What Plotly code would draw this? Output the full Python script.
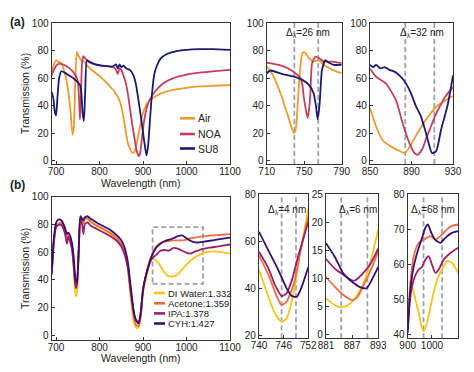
import plotly.graph_objects as go

# ---------------- DATA ----------------
# Panel (a) main: Air / NOA / SU8 transmission spectra
air_x = [690,695,700,705,712,720,727,733,738,741,744,748,752,758,765,772,780,790,800,812,
         824,835,847,853,858,862,866,870,875,880,885,890,895,900,905,910,920,935,950,970,
         1000,1030,1060,1100]
air_y = [64,70,73,72,71,64,53,37,19,25,55,79,76,73,72,69,66.5,64,61.5,58,
         54,50,43,35,26,18,12,9,6,6.5,12,20,28,35,39,42,45,48,50,51.5,
         53,54,54.5,55]
noa_x = [690,695,700,708,715,725,735,745,750,753,755,757,760,763,768,775,790,805,820,832,
         838,842,846,850,855,860,865,870,875,880,885,890,893,897,902,910,920,935,950,970,
         1000,1030,1060,1100]
noa_y = [62,66,69,70.5,70,68.5,66,62,58,45,30,45,72,76,74,72,70,69,68.5,68,
         66,63,67,66,62,57,49,38,27,17,8,3.5,5,15,28,40,47,53,57,60,
         62.5,64,65,66]
su8_x = [690,694,697,700,703,707,712,720,730,740,750,755,758,761,764,767,771,776,790,810,
         830,838,842,846,850,855,862,870,878,884,890,896,902,908,912,916,921,926,932,940,
         955,975,1000,1030,1060,1100]
su8_y = [50,45,36,33,45,60,65,64,62,60,57,55,50,35,29,50,73,72,70,69,
         68.5,70,67,70,68,69,67,66,62,55,43,30,16,4,12,30,50,63,69,74,
         77.5,79.5,80.5,81,81,80.5]

# Panel (a) inset 1 (710-790 nm)
air_i1_x = [710,715,719,723,726,730,733,736,739,741,743,745,748,750.5,755,760,765.5,771,780,790]
air_i1_y = [68.4,64,58.7,52,46.6,38,32,25,20,23,40,61,78,78.7,74.4,72,73,69.6,66,63.5]
noa_i1_x = [710,723,733,740.6,746,748,749.5,751.5,753.7,755.3,756.6,758.4,762,766,771,780,790]
noa_i1_y = [71.3,69.6,67,63.5,60,55,46.6,38,31,38,49,70.8,75.6,74.4,72,72,70.8]
su8_i1_x = [710,714,726,739,748,755,760,762.6,764.4,766.5,769,772.6,776,781.5,790]
su8_i1_y = [63.5,65.5,63,61,58.7,55,49,39.4,30,41.8,66,73,71.3,69.6,69.6]

# Panel (a) inset 2 (850-930 nm)
air_i2_x = [850,855.8,862,870,878,883.8,889.5,897.6,907,913.7,922,930]
air_i2_y = [38,25,15,10.4,7.2,5.6,11.6,22.5,33,39,43.5,47]
noa_i2_x = [850,855.8,865.4,875,881.5,888,893,896,900.8,904,908.8,913,917,923,930]
noa_i2_y = [67,61,56,44,27,12.8,5.5,4.3,9,16,25,33,39,47,53.5]
su8_i2_x = [850,853,856,860,864,868.6,874,878.3,882,886.3,890,894.4,899.2,904,909.8,913.7,918.5,924.9,930]
su8_i2_y = [69.6,68,69.5,67,68,66,64.5,62,59,54,48,39.4,32,20,5.6,6.8,22.5,40.6,62]

# Panel (b) main: liquids
wl_b = [690,695,700,705,712,720,725,728,732,737,741,745,748,752,756,760,763,766,772,780,
        795,810,825,840,850,858,865,870,875,880,885,890,895,900,910,920,930,940,950,960,
        970,980,990,1000,1010,1020,1030,1040,1060,1080,1100]
di_y  = [43,67,78,80,80.5,75.5,70.5,71.5,69.5,62,46,28,30,58,86,83,80.5,84,84,81.5,
         78.5,76,73,69,65,58,47,32,18,8,5,6,13,30,45,55,54,50,45,42.5,
         42.5,44,47.5,51,54,56.5,58,59.5,60.5,60,59]
ace_y = [44,68,79,80.5,81,76,71,72,70,63,50,36,34,60,85,83,81,84,84.5,82,
         79,76.5,74,70,66,60,50,36,22,11,7,6.8,14,32,48,58,64,66.5,67.5,68,
         68.5,68.5,68.5,69,70,70.5,71,71.5,72,72.5,73]
ipa_y = [44,67,78,79.5,79.5,74,66,71,68,61,48,34,37,58,84,80,73,80,81.5,79,
         76.5,74,71.5,68,64,58,49,36,24,14,10.5,10,17,33,47,55,58,61,61.5,61,
         63,62.5,61,59.5,59,60.5,61.5,62.5,63.5,64.5,65.5]
cyh_y = [45,70,81,83.5,83,78,73,74,72,66,55,40,38,62,86,84,83,85,86,84,
         81,78.5,76,72,68.5,63,53,40,26,15,10,8.5,17,33,47,57,63,66,68,69,
         70,71.5,72,70,68,67,67,67.5,68.5,69.5,70.5]

# Panel (b) inset 1 (740-752 nm)
di_b1_x  = [740,742.3,743.9,745.5,746.7,748.4,750,752]
di_b1_y  = [47.7,36.3,29.2,25.7,27,37.8,54.8,74]
ace_b1_x = [740,742.3,744.3,745.5,746.7,748.4,750,752]
ace_b1_y = [54,45.6,36.6,32.8,34.2,41.3,54.8,70.5]
ipa_b1_x = [740,742.3,743.9,745.5,746.7,748,749.6,752]
ipa_b1_y = [55.5,48.4,41.3,36.6,37.8,43.4,54,68.3]
cyh_b1_x = [740,742.3,744.7,746.7,748,749.2,750.4,752]
cyh_b1_y = [64,56,47.7,40,36.6,36.3,40.6,49]

# Panel (b) inset 2 (881-893 nm)
di_b2_x  = [881,883,884.3,886.1,888,889.9,891.5,893]
di_b2_y  = [6.5,5.3,4.9,5.3,6.9,9.8,13.9,18.8]
ace_b2_x = [881,883,885,886.9,888,889.5,891.1,893]
ace_b2_y = [10.3,8.6,7.1,6.2,6.5,8.6,11.2,14.8]
ipa_b2_x = [881,883,885,886.9,887.7,889.2,891.1,893]
ipa_b2_y = [13.5,11.8,10.7,9.7,9.7,10.7,12.5,15.4]
cyh_b2_x = [881,883,885,886.9,888.8,890.3,891.9,893]
cyh_b2_y = [16.3,13.9,10.9,9.5,8.5,8.3,10.4,12.1]

# Panel (b) inset 3 (900-1050 nm)
di_b3_x  = [905,915,923,933,941,947,957,972,987,1002,1017,1031,1050]
di_b3_y  = [55,53,50,46.2,42.4,41,43.3,50,55.7,58.6,61,60.5,57.6]
ace_b3_x = [900,908,918,932.6,947,957,967,982,997,1016.5,1031,1050]
ace_b3_y = [43.3,54.8,62.4,66.2,67.1,67.6,68.1,67.1,68.1,70,71,71.4]
ipa_b3_x = [900,908,918,932.6,942.6,950,962,972,982,992,1006.6,1026.5,1050]
ipa_b3_y = [41.4,51,55.7,58.6,59.3,61,62.4,60,57.6,58.6,61.4,63.3,64.8]
cyh_b3_x = [900,908,918,932.6,942.6,952.5,960,970,982,997,1011.5,1031,1050]
cyh_b3_y = [40.5,52.9,59.5,64.8,67.6,70.5,71.4,69,67,66.2,67.6,69,69.5]

# labels
legend_a = ["Air", "NOA", "SU8"]
legend_b = ["DI Water:1.332", "Acetone:1.359", "IPA:1.378", "CYH:1.427"]
delta_labels = ["26", "32", "4", "6", "68"]
dash_a1 = [739.5, 765]
dash_a2 = [884, 912]
dash_b1 = [745.5, 749]
dash_b2 = [884.5, 890.5]
dash_b3 = [947, 1002]
box_b = dict(x0=922, x1=1038, y0=37, y1=78)

# ---------------- STYLE ----------------
C_AIR, C_NOA, C_SU8 = "#EE9A2E", "#C43F5E", "#1B1A72"
C_DI, C_ACE, C_IPA, C_CYH = "#F7C51C", "#EC6E45", "#9A1E6C", "#3A0E6C"
FONT = "Liberation Sans, Arial, sans-serif"
TXT = "#222222"
OFF = 8                      # page body margin of the html page
W, H = 474 - 2 * OFF, 372 - 2 * OFF

def fx(px):
    return (px - OFF) / W

def fy(py):
    return 1 - (py - OFF) / H

fig = go.Figure()

def add(x, y, color, n):
    sfx = "" if n == 1 else str(n)
    fig.add_trace(go.Scatter(x=x, y=y, mode="lines", showlegend=False,
                             line=dict(color=color, width=1.8, shape="spline", smoothing=0.6),
                             xaxis="x" + sfx, yaxis="y" + sfx, hoverinfo="skip"))

# panel a
add(air_x, air_y, C_AIR, 1); add(noa_x, noa_y, C_NOA, 1); add(su8_x, su8_y, C_SU8, 1)
add(air_i1_x, air_i1_y, C_AIR, 2); add(noa_i1_x, noa_i1_y, C_NOA, 2); add(su8_i1_x, su8_i1_y, C_SU8, 2)
add(air_i2_x, air_i2_y, C_AIR, 3); add(noa_i2_x, noa_i2_y, C_NOA, 3); add(su8_i2_x, su8_i2_y, C_SU8, 3)
# panel b
for yy, c in [(di_y, C_DI), (ace_y, C_ACE), (ipa_y, C_IPA), (cyh_y, C_CYH)]:
    add(wl_b, yy, c, 4)
for (xx, yy), c in [((di_b1_x, di_b1_y), C_DI), ((ace_b1_x, ace_b1_y), C_ACE),
                    ((ipa_b1_x, ipa_b1_y), C_IPA), ((cyh_b1_x, cyh_b1_y), C_CYH)]:
    add(xx, yy, c, 5)
for (xx, yy), c in [((di_b2_x, di_b2_y), C_DI), ((ace_b2_x, ace_b2_y), C_ACE),
                    ((ipa_b2_x, ipa_b2_y), C_IPA), ((cyh_b2_x, cyh_b2_y), C_CYH)]:
    add(xx, yy, c, 6)
for (xx, yy), c in [((di_b3_x, di_b3_y), C_DI), ((ace_b3_x, ace_b3_y), C_ACE),
                    ((ipa_b3_x, ipa_b3_y), C_IPA), ((cyh_b3_x, cyh_b3_y), C_CYH)]:
    add(xx, yy, c, 7)

ax_common = dict(showline=True, mirror=True, linecolor="#333333", linewidth=1.3,
                 ticks="inside", ticklen=3, tickcolor="#333333", showgrid=False,
                 zeroline=False, tickfont=dict(family=FONT, size=10, color=TXT))

layout = dict(width=W, height=H,
              margin=dict(l=0, r=0, t=0, b=0, pad=0, autoexpand=False),
              paper_bgcolor="white", plot_bgcolor="white",
              font=dict(family=FONT, size=10, color=TXT))

specs = [
    # n, xdomain px, ydomain px, xrange, xticks, yrange, yticks
    (1, (51.7, 230), (23, 164), [690, 1100], [700, 800, 900, 1000, 1100], [-2.2, 100], [0, 20, 40, 60, 80, 100]),
    (2, (266.7, 341.7), (23, 164), [710, 790], [710, 750, 790], [-2.4, 100], [0, 20, 40, 60, 80, 100]),
    (3, (370, 453), (23, 164), [850, 930], [850, 890, 930], [-2.4, 100], [0, 20, 40, 60, 80, 100]),
    (4, (51.7, 230), (196.7, 340), [690, 1100], [700, 800, 900, 1000, 1100], [-3.5, 100], [0, 20, 40, 60, 80, 100]),
    (5, (259, 308.3), (194.3, 338.3), [740, 752], [740, 746, 752], [18.6, 80], [20, 40, 60, 80]),
    (6, (326, 378.3), (194.3, 338.3), [881, 893], [881, 887, 893], [-0.6, 25], [0, 5, 10, 15, 20, 25]),
    (7, (407.7, 458.3), (194.3, 338.3), [900, 1050], [900, 972, 1050], [39, 80], [40, 50, 60, 70, 80]),
]
for n, (xa, xb), (yt, yb), xr, xt, yr, yt_ in specs:
    sfx = "" if n == 1 else str(n)
    xd = dict(ax_common, domain=[fx(xa), fx(xb)], range=xr, tickvals=xt,
              anchor="y" + sfx, ticklabelstandoff=-2)
    if n == 7:
        xd["ticktext"] = ["900", "1000", "1050"]
    yd = dict(ax_common, domain=[fy(yb), fy(yt)], range=yr, tickvals=yt_,
              anchor="x" + sfx)
    if n in (1, 4):
        xd["title"] = dict(text="Wavelength (nm)", font=dict(family=FONT, size=10.5, color=TXT), standoff=3)
        yd["title"] = dict(text="Transmission (%)", font=dict(family=FONT, size=10.5, color=TXT), standoff=0)
    layout["xaxis" + sfx] = xd
    layout["yaxis" + sfx] = yd

fig.update_layout(**layout)

# dashed guide lines in insets
DASH_C = "#9AA3AE"
for n, xs in [(2, dash_a1), (3, dash_a2), (5, dash_b1), (6, dash_b2), (7, dash_b3)]:
    for xv in xs:
        fig.add_shape(type="line", xref="x%d" % n, yref="y%d domain" % n,
                      x0=xv, x1=xv, y0=0, y1=1, layer="below",
                      line=dict(color=DASH_C, width=1.8, dash="5px,3px"))

fig.add_shape(type="rect", xref="x4", yref="y4", layer="below",
              line=dict(color="#A0A0A0", width=1.8, dash="5px,3px"), **box_b)

# delta annotations (centre positions in reference pixels)
for lab, cx, cy in [(delta_labels[0], 307.5, 33), (delta_labels[1], 421.7, 33),
                    (delta_labels[2], 286.7, 210), (delta_labels[3], 358, 210),
                    (delta_labels[4], 433, 210)]:
    fig.add_annotation(xref="paper", yref="paper", x=fx(cx), y=fy(cy),
                       xanchor="center", yanchor="middle", borderpad=0,
                       text="Δ<sub>λ</sub>=%s nm" % lab, showarrow=False,
                       font=dict(family=FONT, size=10, color=TXT))

# custom legends (positions in reference pixels)
def legend(labels, colors, x0, x1, ys, fs):
    for lab, col, yv in zip(labels, colors, ys):
        fig.add_shape(type="line", xref="paper", yref="paper",
                      x0=fx(x0), x1=fx(x1), y0=fy(yv), y1=fy(yv),
                      line=dict(color=col, width=2.6))
        fig.add_annotation(xref="paper", yref="paper", x=fx(x1 + 1.5), y=fy(yv),
                           xanchor="left", yanchor="middle", borderpad=0,
                           text=lab, showarrow=False,
                           font=dict(family=FONT, size=fs, color=TXT))

legend(legend_a, [C_AIR, C_NOA, C_SU8], 180, 195, [118.3, 134, 148.5], 10.5)
legend(legend_b, [C_DI, C_ACE, C_IPA, C_CYH], 154, 165, [293, 303.3, 313.4, 323.5], 9.5)

# panel labels
for lab, cx, cy in [("(a)", 17, 22), ("(b)", 17, 185)]:
    fig.add_annotation(xref="paper", yref="paper", x=fx(cx), y=fy(cy),
                       xanchor="center", yanchor="middle", text="<b>%s</b>" % lab,
                       showarrow=False, font=dict(family=FONT, size=12, color=TXT))

fig.write_html("out.html")
